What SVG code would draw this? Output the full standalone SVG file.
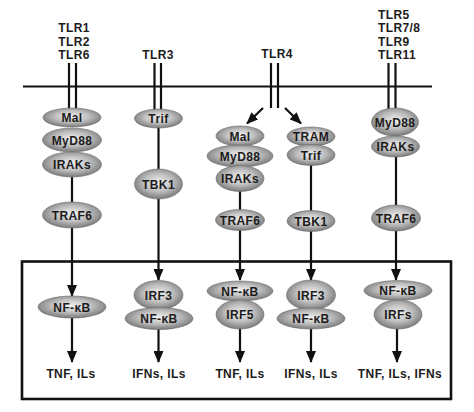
<svg xmlns="http://www.w3.org/2000/svg" width="474" height="412" viewBox="0 0 474 412">
<defs>
<radialGradient id="g" cx="50%" cy="45%" r="55%">
<stop offset="0" stop-color="#f2f2f2"/>
<stop offset="0.55" stop-color="#bdbdbd"/>
<stop offset="1" stop-color="#7a7a7a"/>
</radialGradient>
<marker id="ah" viewBox="0 0 12 10" refX="11" refY="5" markerWidth="12" markerHeight="10" markerUnits="userSpaceOnUse" orient="auto">
<path d="M0,0 L12,5 L0,10 Z" fill="#111"/>
</marker>
</defs>
<style>
text{font-family:"Liberation Sans",Arial,sans-serif;font-weight:bold;fill:#1c1c1c;font-size:12px;letter-spacing:0.4px}
.m{text-anchor:middle}
ellipse{fill:url(#g);stroke:#6a6a6a;stroke-width:0.6}
.ln{stroke:#111;stroke-width:2.2;fill:none}
.ar{stroke:#111;stroke-width:2.2;fill:none;marker-end:url(#ah)}
</style>
<rect width="474" height="412" fill="#fff"/>

<g id="membrane">
<line class="ln" x1="23" y1="86.5" x2="432" y2="86.5"/>
</g>

<g id="connectors">
<line class="ln" x1="72" y1="176" x2="72" y2="203"/>
<line class="ar" x1="72" y1="228" x2="72" y2="296"/>
<line class="ar" x1="72" y1="318" x2="72" y2="362"/>
<line class="ln" x1="158.5" y1="127" x2="158.5" y2="170"/>
<line class="ar" x1="158.5" y1="198" x2="158.5" y2="280"/>
<line class="ar" x1="158.5" y1="329" x2="158.5" y2="362"/>
<line class="ar" x1="263" y1="108" x2="247" y2="123.5"/>
<line class="ar" x1="285" y1="108" x2="301" y2="123.5"/>
<line class="ln" x1="240" y1="190" x2="240" y2="210"/>
<line class="ar" x1="240" y1="230" x2="240" y2="280"/>
<line class="ar" x1="240" y1="329" x2="240" y2="362"/>
<line class="ln" x1="311" y1="165" x2="311" y2="211"/>
<line class="ar" x1="311" y1="231" x2="311" y2="280"/>
<line class="ar" x1="311" y1="329" x2="311" y2="362"/>
<line class="ln" x1="396" y1="156" x2="396" y2="206"/>
<line class="ar" x1="396" y1="231" x2="396" y2="280"/>
<line class="ar" x1="397" y1="329" x2="397" y2="362"/>
</g>

<g id="box">
<rect x="22" y="261.5" width="429" height="137.5" fill="none" stroke="#111" stroke-width="2.6"/>
</g>

<g id="tlr126">
<line class="ln" x1="69" y1="63" x2="69" y2="109"/>
<line class="ln" x1="76" y1="63" x2="76" y2="109"/>
<text class="m" x="74" y="32">TLR1</text>
<text class="m" x="74" y="46">TLR2</text>
<text class="m" x="74" y="59">TLR6</text>
</g>
<g id="tlr3">
<line class="ln" x1="154.5" y1="63" x2="154.5" y2="110"/>
<line class="ln" x1="161" y1="63" x2="161" y2="110"/>
<text class="m" x="158" y="59">TLR3</text>
</g>
<g id="tlr4">
<line class="ln" x1="271" y1="63" x2="271" y2="108"/>
<line class="ln" x1="278" y1="63" x2="278" y2="108"/>
<text class="m" x="277" y="58">TLR4</text>
</g>
<g id="tlr5">
<line class="ln" x1="388.5" y1="63" x2="388.5" y2="110"/>
<line class="ln" x1="395.5" y1="63" x2="395.5" y2="110"/>
<text x="378" y="19">TLR5</text>
<text x="378" y="32">TLR7/8</text>
<text x="378" y="46">TLR9</text>
<text x="378" y="59">TLR11</text>
</g>

<g id="c1-mal"><ellipse cx="72" cy="117.5" rx="29" ry="9.5"/><text class="m" x="72" y="122">Mal</text></g>
<g id="c1-myd88"><ellipse cx="72" cy="140" rx="29.5" ry="12"/><text class="m" x="72" y="144.5">MyD88</text></g>
<g id="c1-iraks"><ellipse cx="72" cy="164.5" rx="29.5" ry="12.5"/><text class="m" x="72" y="169">IRAKs</text></g>
<g id="c1-traf6"><ellipse cx="72" cy="215" rx="29.5" ry="13"/><text class="m" x="72" y="219.5">TRAF6</text></g>
<g id="c1-nfkb"><ellipse cx="72" cy="307" rx="34" ry="11"/><text class="m" x="72" y="311.5">NF-κB</text></g>
<g id="c1-out"><text class="m" x="71" y="377.5">TNF, ILs</text></g>

<g id="c2-trif"><ellipse cx="158.5" cy="118.5" rx="24" ry="9.5"/><text class="m" x="158.5" y="123">Trif</text></g>
<g id="c2-tbk1"><ellipse cx="158.5" cy="184" rx="24" ry="15"/><text class="m" x="158.5" y="188.5">TBK1</text></g>
<g id="c2-irf3"><ellipse cx="158.5" cy="295" rx="24.5" ry="14.5"/><text class="m" x="158.5" y="299.5">IRF3</text></g>
<g id="c2-nfkb"><ellipse cx="159" cy="318.5" rx="34" ry="11"/><text class="m" x="159" y="323">NF-κB</text></g>
<g id="c2-out"><text class="m" x="159" y="377.5">IFNs, ILs</text></g>

<g id="c3-mal"><ellipse cx="240" cy="136" rx="24" ry="10"/><text class="m" x="240" y="140.5">Mal</text></g>
<g id="c3-myd88"><ellipse cx="240" cy="156" rx="33" ry="11"/><text class="m" x="240" y="160.5">MyD88</text></g>
<g id="c3-iraks"><ellipse cx="240" cy="178.5" rx="24" ry="13"/><text class="m" x="240" y="183">IRAKs</text></g>
<g id="c3-traf6"><ellipse cx="240" cy="220" rx="24.5" ry="10.5"/><text class="m" x="240" y="224.5">TRAF6</text></g>
<g id="c3-nfkb"><ellipse cx="240" cy="291" rx="33" ry="10"/><text class="m" x="240" y="295.5">NF-κB</text></g>
<g id="c3-irf5"><ellipse cx="240" cy="314.5" rx="24" ry="14.5"/><text class="m" x="240" y="319">IRF5</text></g>
<g id="c3-out"><text class="m" x="240" y="377.5">TNF, ILs</text></g>

<g id="c4-tram"><ellipse cx="311" cy="136.5" rx="24" ry="9.5"/><text class="m" x="311" y="141">TRAM</text></g>
<g id="c4-trif"><ellipse cx="311" cy="155" rx="24" ry="10.5"/><text class="m" x="311" y="159.5">Trif</text></g>
<g id="c4-tbk1"><ellipse cx="311" cy="221" rx="24" ry="10.5"/><text class="m" x="311" y="225.5">TBK1</text></g>
<g id="c4-irf3"><ellipse cx="311" cy="295" rx="24.5" ry="15"/><text class="m" x="311" y="299.5">IRF3</text></g>
<g id="c4-nfkb"><ellipse cx="311" cy="318.5" rx="34" ry="10.5"/><text class="m" x="311" y="323">NF-κB</text></g>
<g id="c4-out"><text class="m" x="311" y="377.5">IFNs, ILs</text></g>

<g id="c5-myd88"><ellipse cx="395" cy="122" rx="23.5" ry="14"/><text class="m" x="395" y="126.5">MyD88</text></g>
<g id="c5-iraks"><ellipse cx="395.5" cy="146.5" rx="24" ry="10.5"/><text class="m" x="395.5" y="151">IRAKs</text></g>
<g id="c5-traf6"><ellipse cx="396" cy="218" rx="24.5" ry="13"/><text class="m" x="396" y="222.5">TRAF6</text></g>
<g id="c5-nfkb"><ellipse cx="398" cy="290.5" rx="34" ry="10"/><text class="m" x="398" y="295">NF-κB</text></g>
<g id="c5-irfs"><ellipse cx="398" cy="314.5" rx="24" ry="14.5"/><text class="m" x="398" y="319">IRFs</text></g>
<g id="c5-out"><text class="m" x="400" y="377.5">TNF, ILs, IFNs</text></g>
</svg>
